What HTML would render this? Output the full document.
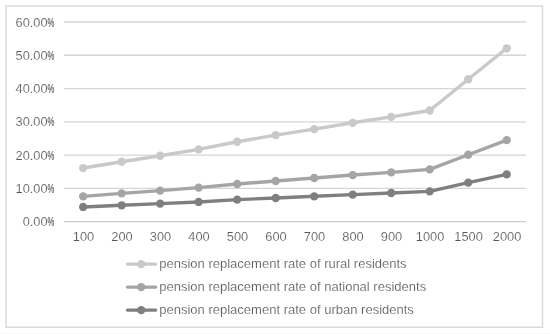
<!DOCTYPE html><html><head><meta charset="utf-8"><title>chart</title><style>html,body{margin:0;padding:0;background:#fff}svg{display:block}text{font-family:"Liberation Sans",sans-serif;fill:#595959}.p{stroke:#595959;stroke-width:0.15px}.t{stroke:#fff;stroke-width:0.16px;fill:#585858}</style></head><body>
<svg width="550" height="334" viewBox="0 0 550 334">
<rect x="0" y="0" width="550" height="334" fill="#fff"/>
<rect x="6.1" y="6.1" width="536.4" height="321.2" fill="#fff" stroke="#dadada" stroke-width="1.5"/><rect x="0" y="333" width="550" height="1" fill="#f8f8f8"/>
<line x1="63.9" x2="526.0" y1="221.60" y2="221.60" stroke="#cccccc" stroke-width="1.3"/>
<text transform="translate(47.6,226.20) scale(0.965,1)" font-size="13.3" text-anchor="end" class="t">0.00</text>
<text transform="translate(47.5,226.20) scale(0.58,1)" font-size="13.3" class="p">%</text>
<line x1="63.9" x2="526.0" y1="188.33" y2="188.33" stroke="#d6d6d6" stroke-width="1.3"/>
<text transform="translate(47.6,192.93) scale(0.965,1)" font-size="13.3" text-anchor="end" class="t">10.00</text>
<text transform="translate(47.5,192.93) scale(0.58,1)" font-size="13.3" class="p">%</text>
<line x1="63.9" x2="526.0" y1="155.07" y2="155.07" stroke="#d6d6d6" stroke-width="1.3"/>
<text transform="translate(47.6,159.67) scale(0.965,1)" font-size="13.3" text-anchor="end" class="t">20.00</text>
<text transform="translate(47.5,159.67) scale(0.58,1)" font-size="13.3" class="p">%</text>
<line x1="63.9" x2="526.0" y1="121.80" y2="121.80" stroke="#d6d6d6" stroke-width="1.3"/>
<text transform="translate(47.6,126.40) scale(0.965,1)" font-size="13.3" text-anchor="end" class="t">30.00</text>
<text transform="translate(47.5,126.40) scale(0.58,1)" font-size="13.3" class="p">%</text>
<line x1="63.9" x2="526.0" y1="88.53" y2="88.53" stroke="#d6d6d6" stroke-width="1.3"/>
<text transform="translate(47.6,93.13) scale(0.965,1)" font-size="13.3" text-anchor="end" class="t">40.00</text>
<text transform="translate(47.5,93.13) scale(0.58,1)" font-size="13.3" class="p">%</text>
<line x1="63.9" x2="526.0" y1="55.27" y2="55.27" stroke="#d6d6d6" stroke-width="1.3"/>
<text transform="translate(47.6,59.87) scale(0.965,1)" font-size="13.3" text-anchor="end" class="t">50.00</text>
<text transform="translate(47.5,59.87) scale(0.58,1)" font-size="13.3" class="p">%</text>
<line x1="63.9" x2="526.0" y1="22.00" y2="22.00" stroke="#d6d6d6" stroke-width="1.3"/>
<text transform="translate(47.6,26.60) scale(0.965,1)" font-size="13.3" text-anchor="end" class="t">60.00</text>
<text transform="translate(47.5,26.60) scale(0.58,1)" font-size="13.3" class="p">%</text>
<text transform="translate(83.45,240.5) scale(0.965,1)" font-size="13.3" text-anchor="middle" class="t">100</text>
<text transform="translate(121.96,240.5) scale(0.965,1)" font-size="13.3" text-anchor="middle" class="t">200</text>
<text transform="translate(160.47,240.5) scale(0.965,1)" font-size="13.3" text-anchor="middle" class="t">300</text>
<text transform="translate(198.98,240.5) scale(0.965,1)" font-size="13.3" text-anchor="middle" class="t">400</text>
<text transform="translate(237.49,240.5) scale(0.965,1)" font-size="13.3" text-anchor="middle" class="t">500</text>
<text transform="translate(276.00,240.5) scale(0.965,1)" font-size="13.3" text-anchor="middle" class="t">600</text>
<text transform="translate(314.50,240.5) scale(0.965,1)" font-size="13.3" text-anchor="middle" class="t">700</text>
<text transform="translate(353.01,240.5) scale(0.965,1)" font-size="13.3" text-anchor="middle" class="t">800</text>
<text transform="translate(391.52,240.5) scale(0.965,1)" font-size="13.3" text-anchor="middle" class="t">900</text>
<text transform="translate(430.03,240.5) scale(0.965,1)" font-size="13.3" text-anchor="middle" class="t">1000</text>
<text transform="translate(468.54,240.5) scale(0.965,1)" font-size="13.3" text-anchor="middle" class="t">1500</text>
<text transform="translate(507.05,240.5) scale(0.965,1)" font-size="13.3" text-anchor="middle" class="t">2000</text>
<polyline points="83.15,168.04 121.66,161.72 160.17,155.73 198.68,149.41 237.19,141.76 275.70,135.11 314.20,129.12 352.71,122.80 391.22,116.81 429.73,110.49 468.24,79.22 506.75,48.28" fill="none" stroke="#c9c9c9" stroke-width="3.4" stroke-linejoin="round" stroke-linecap="round"/>
<circle cx="83.15" cy="168.04" r="4.15" fill="#c9c9c9"/>
<circle cx="121.66" cy="161.72" r="4.15" fill="#c9c9c9"/>
<circle cx="160.17" cy="155.73" r="4.15" fill="#c9c9c9"/>
<circle cx="198.68" cy="149.41" r="4.15" fill="#c9c9c9"/>
<circle cx="237.19" cy="141.76" r="4.15" fill="#c9c9c9"/>
<circle cx="275.70" cy="135.11" r="4.15" fill="#c9c9c9"/>
<circle cx="314.20" cy="129.12" r="4.15" fill="#c9c9c9"/>
<circle cx="352.71" cy="122.80" r="4.15" fill="#c9c9c9"/>
<circle cx="391.22" cy="116.81" r="4.15" fill="#c9c9c9"/>
<circle cx="429.73" cy="110.49" r="4.15" fill="#c9c9c9"/>
<circle cx="468.24" cy="79.22" r="4.15" fill="#c9c9c9"/>
<circle cx="506.75" cy="48.28" r="4.15" fill="#c9c9c9"/>
<polyline points="83.15,196.32 121.66,193.32 160.17,190.66 198.68,187.67 237.19,184.01 275.70,181.01 314.20,178.02 352.71,175.03 391.22,172.37 429.73,169.37 468.24,154.73 506.75,140.10" fill="none" stroke="#a5a5a5" stroke-width="3.4" stroke-linejoin="round" stroke-linecap="round"/>
<circle cx="83.15" cy="196.32" r="4.15" fill="#a5a5a5"/>
<circle cx="121.66" cy="193.32" r="4.15" fill="#a5a5a5"/>
<circle cx="160.17" cy="190.66" r="4.15" fill="#a5a5a5"/>
<circle cx="198.68" cy="187.67" r="4.15" fill="#a5a5a5"/>
<circle cx="237.19" cy="184.01" r="4.15" fill="#a5a5a5"/>
<circle cx="275.70" cy="181.01" r="4.15" fill="#a5a5a5"/>
<circle cx="314.20" cy="178.02" r="4.15" fill="#a5a5a5"/>
<circle cx="352.71" cy="175.03" r="4.15" fill="#a5a5a5"/>
<circle cx="391.22" cy="172.37" r="4.15" fill="#a5a5a5"/>
<circle cx="429.73" cy="169.37" r="4.15" fill="#a5a5a5"/>
<circle cx="468.24" cy="154.73" r="4.15" fill="#a5a5a5"/>
<circle cx="506.75" cy="140.10" r="4.15" fill="#a5a5a5"/>
<polyline points="83.15,206.96 121.66,205.30 160.17,203.64 198.68,201.97 237.19,199.64 275.70,197.98 314.20,196.32 352.71,194.65 391.22,192.99 429.73,191.33 468.24,182.68 506.75,174.36" fill="none" stroke="#7f7f7f" stroke-width="3.4" stroke-linejoin="round" stroke-linecap="round"/>
<circle cx="83.15" cy="206.96" r="4.15" fill="#7f7f7f"/>
<circle cx="121.66" cy="205.30" r="4.15" fill="#7f7f7f"/>
<circle cx="160.17" cy="203.64" r="4.15" fill="#7f7f7f"/>
<circle cx="198.68" cy="201.97" r="4.15" fill="#7f7f7f"/>
<circle cx="237.19" cy="199.64" r="4.15" fill="#7f7f7f"/>
<circle cx="275.70" cy="197.98" r="4.15" fill="#7f7f7f"/>
<circle cx="314.20" cy="196.32" r="4.15" fill="#7f7f7f"/>
<circle cx="352.71" cy="194.65" r="4.15" fill="#7f7f7f"/>
<circle cx="391.22" cy="192.99" r="4.15" fill="#7f7f7f"/>
<circle cx="429.73" cy="191.33" r="4.15" fill="#7f7f7f"/>
<circle cx="468.24" cy="182.68" r="4.15" fill="#7f7f7f"/>
<circle cx="506.75" cy="174.36" r="4.15" fill="#7f7f7f"/>
<line x1="127.5" x2="155.6" y1="264.1" y2="264.1" stroke="#c9c9c9" stroke-width="3.4" stroke-linecap="round"/>
<circle cx="141.2" cy="264.1" r="4.15" fill="#c9c9c9"/>
<text x="159.2" y="268.40" font-size="13.03" class="t">pension replacement rate of rural residents</text>
<line x1="127.5" x2="155.6" y1="287.1" y2="287.1" stroke="#a5a5a5" stroke-width="3.4" stroke-linecap="round"/>
<circle cx="141.2" cy="287.1" r="4.15" fill="#a5a5a5"/>
<text x="159.2" y="291.40" font-size="13.03" class="t">pension replacement rate of national residents</text>
<line x1="127.5" x2="155.6" y1="310.1" y2="310.1" stroke="#7f7f7f" stroke-width="3.4" stroke-linecap="round"/>
<circle cx="141.2" cy="310.1" r="4.15" fill="#7f7f7f"/>
<text x="159.2" y="314.40" font-size="13.03" class="t">pension replacement rate of urban residents</text>
</svg></body></html>
